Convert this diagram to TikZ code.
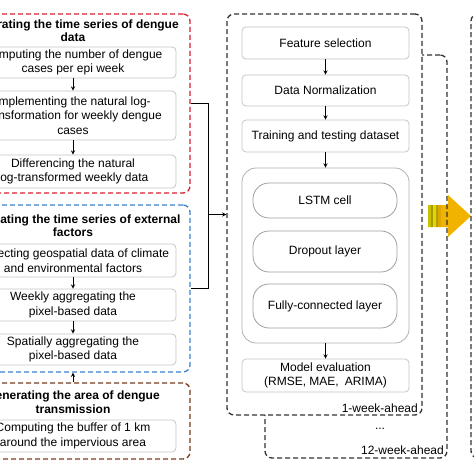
\documentclass[tikz,border=0pt]{standalone}
\usepackage{fontspec}
\setmainfont{Liberation Sans}
\usetikzlibrary{calc,positioning,arrows}
\definecolor{grpred}{RGB}{214,32,48}
\definecolor{grpblue}{RGB}{58,128,210}
\definecolor{grpbrown}{RGB}{120,58,30}
\definecolor{amber}{RGB}{242,178,0}
\tikzstyle{procbox}   = [draw=gray!45, line width=0.8pt, rounded corners=4pt, fill=white, align=center, inner sep=0pt]
\tikzstyle{grpframe}  = [line width=1.3pt, dash pattern=on 5pt off 3pt, rounded corners=7pt, inner sep=0pt]
\tikzstyle{grptitle}  = [align=center, inner sep=0pt, font=\fontsize{12}{13.5}\selectfont\bfseries]
\tikzstyle{layerbox}  = [draw=gray!75, line width=0.8pt, rounded corners=16pt, fill=white, align=center, inner sep=0pt]
\tikzstyle{arrow}     = [line width=0.9pt,->,>=stealth]

\begin{document}
\begin{tikzpicture}[x=1pt,y=-1pt,font=\fontsize{12}{14.5}\selectfont]
		\useasboundingbox (0,0) rectangle (474,474);
		\clip (0,0) rectangle (474,474);

		% dengue series
		\node[grpframe, draw=grpred, minimum width=234pt, minimum height=179pt] (redgrp) at (73,103.5) {};
		\node[grptitle] (redtitle) at (73,30.5) {Generating the time series of dengue\\data};
		\node[procbox, minimum width=206pt, minimum height=31pt] (cases) at (73,62.5) {Computing the number of dengue\\cases per epi week};
		\node[procbox, minimum width=206pt, minimum height=49pt] (logtr) at (73,115.5) {Implementing the natural log-\\transformation for weekly dengue\\cases};
		\node[procbox, minimum width=206pt, minimum height=33pt] (diffs) at (73,171.5) {Differencing the natural\\log-transformed weekly data};
		\draw[arrow] (cases) -- (logtr);
		\draw[arrow] (logtr) -- (diffs);

		% external factors
		\node[grpframe, draw=grpblue, minimum width=234pt, minimum height=167pt] (bluegrp) at (73,288.5) {};
		\node[grptitle] (bluetitle) at (73,225.5) {Generating the time series of external\\factors};
		\node[procbox, minimum width=206pt, minimum height=33pt] (geodata) at (73,260.5) {Collecting geospatial data of climate\\and environmental factors};
		\node[procbox, minimum width=206pt, minimum height=32pt] (weekly) at (73,305) {Weekly aggregating the\\pixel-based data};
		\node[procbox, minimum width=206pt, minimum height=31pt] (spatial) at (73,349.5) {Spatially aggregating the\\pixel-based data};
		\draw[arrow] (geodata) -- (weekly);
		\draw[arrow] (weekly) -- (spatial);

		% transmission area
		\node[grpframe, draw=grpbrown, minimum width=234pt, minimum height=76pt] (browngrp) at (73,421) {};
		\node[grptitle] (browntitle) at (73,402) {Generating the area of dengue\\transmission};
		\node[procbox, minimum width=206pt, minimum height=32pt] (buffer) at (73,436) {Computing the buffer of 1 km\\around the impervious area};
		\draw[arrow] (browngrp.north) -- (bluegrp.south);

		% big arrow to next stage
		\fill[amber] (428,205) -- (448,205) -- (448,195) -- (471,216) -- (448,237) -- (448,227) -- (428,227) -- cycle;
		\fill[yellow!55!olive] (428,205) rectangle (431,227);
		\fill[olive!80!yellow] (431,205) rectangle (433,227);
		\fill[yellow!75!olive] (433,205) rectangle (436,227);
		\fill[olive!60!amber] (436,205) rectangle (438,227);
		\fill[amber!80!olive] (438,205) rectangle (441,227);

		% forecast frames
		\node[grpframe, draw=black!80, minimum width=182pt, minimum height=403pt] (week12) at (356,256.5) {};
		\node[grpframe, draw=black!80, fill=white, minimum width=195pt, minimum height=401pt] (week1) at (324.5,214.5) {};
		\node[grpframe, draw=black!80, minimum width=200pt, minimum height=444pt] (nextstage) at (571,236) {};

		\coordinate (join) at (208,214.5);
		\draw[line width=0.9pt] (redgrp.east) -| (join);
		\draw[line width=0.9pt] (bluegrp.east) -| (join);
		\draw[arrow] (join) -- (week1.west);

		% LSTM model
		\node[procbox, minimum width=167pt, minimum height=32pt] (featsel) at (325.5,43) {Feature selection};
		\node[procbox, minimum width=167pt, minimum height=31pt] (datanorm) at (325.5,90.5) {Data Normalization};
		\node[procbox, minimum width=167pt, minimum height=32pt] (trainset) at (325.5,136) {Training and testing dataset};
		\node[procbox, draw=gray!60, rounded corners=14pt, minimum width=167pt, minimum height=175pt] (lstmblock) at (325.5,255.5) {};
		\node[layerbox, minimum width=144pt, minimum height=35pt] (lstmcell) at (325,200.5) {LSTM cell};
		\node[layerbox, minimum width=144pt, minimum height=41pt] (dropout) at (325,251.5) {Dropout layer};
		\node[layerbox, minimum width=144pt, minimum height=44pt] (fullconn) at (325,306) {Fully-connected layer};
		\node[procbox, minimum width=167pt, minimum height=33pt] (modeleval) at (325.5,375.5) {Model evaluation\\(RMSE, MAE,\enspace ARIMA)};
		\draw[arrow] (featsel) -- (datanorm);
		\draw[arrow] (datanorm) -- (trainset);
		\draw[arrow] (trainset) -- (lstmblock);
		\draw[arrow] (lstmblock) -- (modeleval);

		\node[anchor=east, inner sep=0pt] (lbl1) at (418,408) {1-week-ahead};
		\node[inner sep=0pt] (dots) at (380,429) {...};
		\node[anchor=east, inner sep=0pt] (lbl12) at (444,450) {12-week-ahead};
	\end{tikzpicture}
\end{document}
